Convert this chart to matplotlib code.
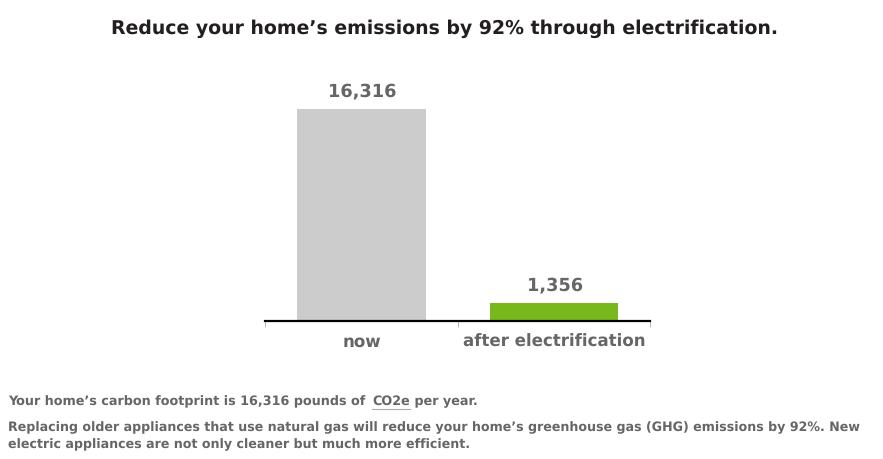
import matplotlib
matplotlib.use("Agg")
import matplotlib.pyplot as plt

categories = ["now", "after electrification"]
values = [16316, 1356]
value_labels = ["16,316", "1,356"]
bar_colors = ["#cccccc", "#78b81c"]
title = "Reduce your home\u2019s emissions by 92% through electrification."
para1 = ["Your home\u2019s carbon footprint is 16,316 pounds of ", "CO2e", " per year."]
para2 = ["Replacing older appliances that use natural gas will reduce your home\u2019s greenhouse gas (GHG) emissions by 92%. New",
         "electric appliances are not only cleaner but much more efficient."]

W, H = 883, 459
plt.rcParams["font.family"] = "DejaVu Sans"
plt.rcParams["text.hinting"] = "no_hinting"
fig = plt.figure(figsize=(W / 100, H / 100), dpi=100, facecolor="white")

def px(x):
    return x / W
def py(y):
    return 1 - y / H

ax = fig.add_axes([px(265), py(321), (650.5 - 265) / W, (321 - 109) / H])
positions = list(range(len(values)))
ax.bar(positions, values, width=2 / 3, color=bar_colors, linewidth=0)
ax.set_xlim(-0.5, 1.5)
ax.set_ylim(0, 16316)
for s in ("top", "left", "right"):
    ax.spines[s].set_visible(False)
ax.spines["bottom"].set_linewidth(1.6)
ax.spines["bottom"].set_color("black")
ax.yaxis.set_visible(False)
ax.set_xticks([-0.5, 0.5, 1.5])
ax.set_xticklabels([])
ax.tick_params(axis="x", length=4, width=0.6, color="#aaaaaa")
ax.patch.set_alpha(0)

for p, v, lab in zip(positions, values, value_labels):
    ax.annotate(lab, (p, v), xytext=(1, 9), textcoords="offset pixels", ha="center", va="bottom",
                fontsize=12.8, fontweight="bold", color="#666666", annotation_clip=False)

for p, c in zip(positions, categories):
    ax.annotate(c, (p, 0), xytext=(0.5, -21), textcoords="offset pixels", ha="center", va="center",
                fontsize=12, fontweight="bold", color="#666666", annotation_clip=False)

fig.text(px(445), py(29), title, ha="center", va="center", fontsize=13.6, fontweight="bold", color="#231f20")

TXT = dict(fontweight="bold", color="#666666", va="baseline", ha="left")
fig.text(px(8), py(405), para1[0], fontsize=9.15, **TXT)
fig.text(px(372), py(405), para1[1], fontsize=9.15, **TXT)
fig.text(px(410), py(405), para1[2], fontsize=9.15, **TXT)
fig.add_artist(plt.Line2D([px(372), px(410)], [py(408.5)] * 2, color="#aaaaaa", lw=0.8))
fig.text(px(8), py(431), para2[0], fontsize=9.07, **TXT)
fig.text(px(8), py(448), para2[1], fontsize=9.07, **TXT)

fig.savefig("out.png", dpi=100)
